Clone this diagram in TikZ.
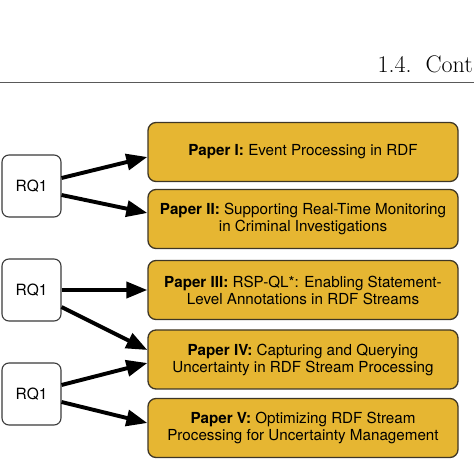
\documentclass[tikz,border=0pt]{standalone}
\usepackage{fontspec}
\setsansfont{TeX Gyre Heros}
\usepackage{tikz}
\usetikzlibrary{positioning,calc,arrows.meta}
\definecolor{papergold}{HTML}{E6B632}
\definecolor{paperedge}{HTML}{3E3626}
\definecolor{rqedge}{HTML}{3A3A3A}

\begin{document}
\begin{tikzpicture}[x=1pt,y=1pt,>={Triangle[length=21pt,width=16pt]},
  paper/.style={rectangle,rounded corners=8pt,draw=paperedge,line width=1.3pt,fill=papergold,
    minimum width=310pt,minimum height=59pt,align=center,
    font=\sffamily\fontsize{15.2}{17}\selectfont},
  rq/.style={rectangle,rounded corners=7pt,draw=rqedge,line width=1.1pt,fill=white,
    minimum width=59pt,minimum height=62pt,font=\sffamily\fontsize{15.5}{17}\selectfont},
  link/.style={->,line width=3.9pt}]

  \useasboundingbox (0,0) rectangle (474,474);

  % running head
  \draw[line width=0.8pt,black!65] (0,392) -- (474,392);
  \node[anchor=base east,inner sep=0pt,font=\fontsize{24}{28}\selectfont] (head) at (473,401) {1.4.\hspace{14pt}Cont};

  % papers
  \node[paper] (p1) at (303,322) {\textbf{Paper I:} Event Processing in RDF};
  \node[paper] (p2) at (303,255) {\textbf{Paper II:} Supporting Real-Time Monitoring\\in Criminal Investigations};
  \node[paper] (p3) at (303,184) {\textbf{Paper III:} RSP-QL*: Enabling Statement-\\Level Annotations in RDF Streams};
  \node[paper] (p4) at (303,114.5) {\textbf{Paper IV:} Capturing and Querying\\Uncertainty in RDF Stream Processing};
  \node[paper] (p5) at (303,46) {\textbf{Paper V:} Optimizing RDF Stream\\Processing for Uncertainty Management};

  % research questions
  \node[rq] (rq1) at (31.5,288) {RQ1};
  \node[rq] (rq2) at (31.5,184) {RQ1};
  \node[rq] (rq3) at (31.5,80) {RQ1};

  \draw[link] ($(rq1.east)+(0,8)$) -- ($(p1.west)+(0,-5)$);
  \draw[link] ($(rq1.east)+(0,-9)$) -- ($(p2.west)+(0,6)$);
  \draw[link] (rq2.east) -- (p3.west);
  \draw[link] ($(rq2.east)+(0,-17)$) -- ($(p4.west)+(0,9.5)$);
  \draw[link] ($(rq3.east)+(0,9)$) -- ($(p4.west)+(0,-3.5)$);
  \draw[link] ($(rq3.east)+(0,-8)$) -- ($(p5.west)+(0,5)$);

\end{tikzpicture}
\end{document}
